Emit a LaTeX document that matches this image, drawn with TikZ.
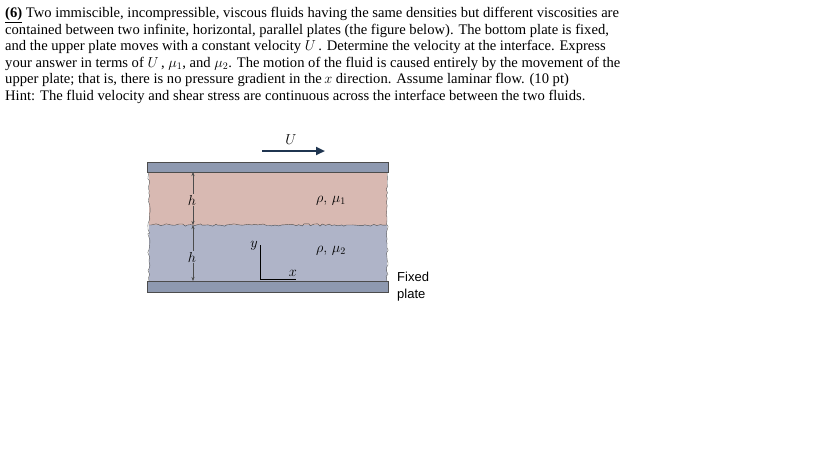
\documentclass[tikz,border=0pt]{standalone}
\usepackage{fontspec}
\setmainfont{Liberation Serif}
\newfontfamily\labelfont{Liberation Sans}
\usetikzlibrary{positioning,arrows.meta,decorations.pathmorphing}
\definecolor{plategray}{HTML}{8E99B0}
\definecolor{fluidtop}{HTML}{D8B9B2}
\definecolor{fluidbot}{HTML}{AFB4C8}
\definecolor{arrowblue}{HTML}{1F3550}
\tikzset{
  textline/.style={anchor=base west,inner sep=0pt,font=\fontsize{14.6}{16}\selectfont},
  plate/.style={fill=plategray,draw=black!70,line width=0.6pt},
  wavy/.style={decorate,decoration={random steps,segment length=3pt,amplitude=1.2pt}},
  dimarrow/.style={{Stealth[length=4pt]}-{Stealth[length=4pt]},line width=0.4pt,black!70},
  mathlabel/.style={inner sep=1pt,font=\fontsize{14}{14}\selectfont}
}
\begin{document}
\begin{tikzpicture}[x=1pt,y=-1pt]
\useasboundingbox (0,0) rectangle (819,460);
% problem text
\node[textline] (l1) at (5,18) {\underline{\textbf{(6)}} Two immiscible, incompressible, viscous fluids having the same densities but different viscosities are};
\node[textline] (l2) at (5,34.5) {contained between two infinite, horizontal, parallel plates (the figure below). The bottom plate is fixed,};
\node[textline] (l3) at (5,51) {and the upper plate moves with a constant velocity $U$\,. Determine the velocity at the interface. Express};
\node[textline] (l4) at (5,67.5) {your answer in terms of $U$\,, $\mu_1$, and $\mu_2$. The motion of the fluid is caused entirely by the movement of the};
\node[textline] (l5) at (5,84) {upper plate; that is, there is no pressure gradient in the\,$x$ direction. Assume laminar flow. (10 pt)};
\node[textline] (l6) at (5,100.5) {Hint: The fluid velocity and shear stress are continuous across the interface between the two fluids.};
% fluids
\fill[fluidtop] (149,172) -- (387,172) -- (387,225) -- (149,225) -- cycle;
\fill[fluidbot] (149,225) -- (387,225) -- (387,281) -- (149,281) -- cycle;
\draw[wavy,black!60] (149,172) -- (149,281);
\draw[wavy,black!60] (387,172) -- (387,281);
\draw[wavy,black!70] (149,225) -- (387,225);
% plates
\draw[plate] (147,162) rectangle (388,172);
\draw[plate] (147,281) rectangle (388,292);
% moving plate arrow
\coordinate (ua) at (262,151);
\coordinate (ub) at (325,151);
\draw[arrowblue,line width=2.5pt,-{Triangle[length=9pt,width=8pt]}] (ua) -- (ub);
\node[mathlabel] (ulab) at (291,140) {$U$};
% gap heights
\coordinate (h0) at (193,172);
\coordinate (h1) at (193,225);
\coordinate (h2) at (193,281);
\draw[dimarrow] (h0) -- (h1);
\draw[dimarrow] (h1) -- (h2);
\node[mathlabel,fill=fluidtop] (htop) at (192,200) {$h$};
\node[mathlabel,fill=fluidbot] (hbot) at (192,257) {$h$};
% properties
\node[mathlabel] (fl1) at (331,201) {$\rho,\,\mu_1$};
\node[mathlabel] (fl2) at (331,251) {$\rho,\,\mu_2$};
% axes
\coordinate (origin) at (260,279);
\coordinate (yend) at (260,245);
\coordinate (xend) at (296,279);
\draw[line width=0.6pt] (yend) -- (origin) -- (xend);
\node[mathlabel,left] (ylab) at (259,246) {$y$};
\node[mathlabel,above] (xlab) at (293,278) {$x$};
% fixed plate label
\node[font=\labelfont\fontsize{13}{17}\selectfont,align=left,anchor=north west,inner sep=0pt] (fixed) at (397,272) {Fixed\\plate};
\end{tikzpicture}
\end{document}
